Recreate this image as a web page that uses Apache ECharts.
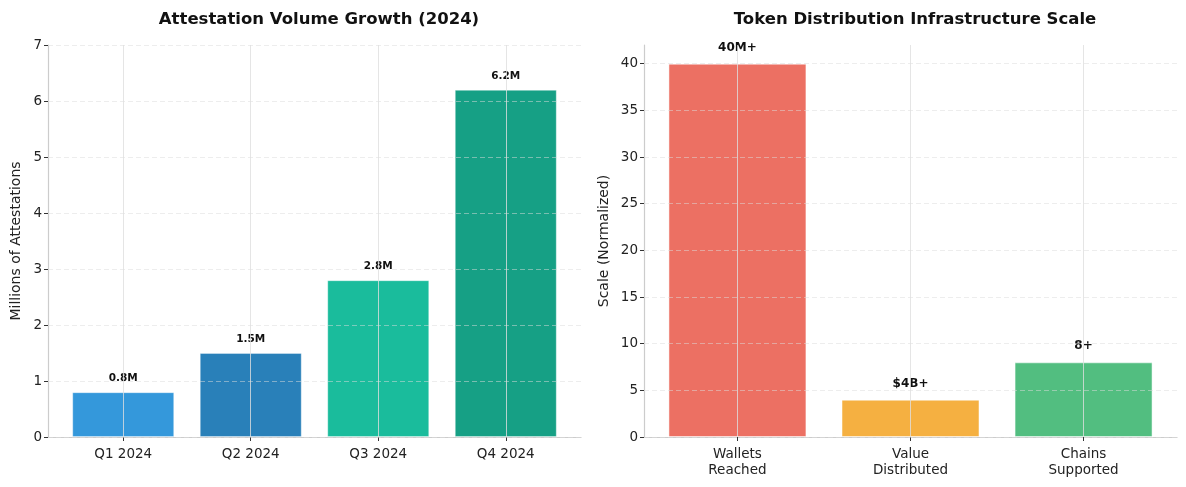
<!DOCTYPE html>
<html><head><meta charset="utf-8">
<script src="https://cdn.jsdelivr.net/npm/echarts@6/dist/echarts.min.js"></script>
<style>html,body{margin:0;padding:0;background:#fff}#c{width:1186px;height:487px}</style>
</head><body><div id="c"></div>
<script>
const quarters = ['Q1 2024','Q2 2024','Q3 2024','Q4 2024'];
const attestations = [0.8, 1.5, 2.8, 6.2];
const quarterColors = ['#3498db','#2980b9','#1abc9c','#16a085'];
const leftTicks = [0,1,2,3,4,5,6,7];

const metrics = ['Wallets\nReached','Value\nDistributed','Chains\nSupported'];
const scaleValues = [40, 4, 8];
const scaleLabels = ['40M+','$4B+','8+'];
const metricColors = ['rgba(231,76,60,0.8)','rgba(243,156,18,0.8)','rgba(39,174,96,0.8)'];
const rightTicks = [0,5,10,15,20,25,30,35,40];

const font = 'DejaVu Sans';
const spine = '#cccccc';
const hGrid = {type:[5,3], color:'rgba(220,220,220,0.5)', width:1};
const vGrid = {type:'solid', color:'rgba(222,222,222,0.8)', width:1};

function xAxisCfg(idx, cats, min, max){
  return {type:'value', gridIndex:idx, min:min, max:max,
    axisLine:{show:true, onZero:false, lineStyle:{color:spine, width:1.2}},
    axisTick:{show:true, customValues:cats.map((_,i)=>i), length:4, lineStyle:{color:'#333'}},
    axisLabel:{customValues:cats.map((_,i)=>i), formatter:v=>cats[Math.round(v)]||'', color:'#222', fontFamily:font, fontSize:13.5, margin:9, lineHeight:16},
    splitLine:{show:false}};
}
function yAxisCfg(idx, ticks, max, name){
  return {type:'value', gridIndex:idx, min:0, max:max,
    name:name, nameLocation:'middle', nameGap:idx===0?25:33, nameTextStyle:{fontFamily:font, fontSize:14, color:'#222'},
    axisLine:{show:true, onZero:false, lineStyle:{color:spine, width:1.2}},
    axisTick:{show:true, customValues:ticks, length:4, lineStyle:{color:'#333'}},
    axisLabel:{customValues:ticks, color:'#222', fontFamily:font, fontSize:13.5, margin:6},
    splitLine:{show:false}};
}
function markLines(cats, ticks){
  return {silent:true, symbol:'none', label:{show:false}, animation:false,
    data: ticks.map(t=>({yAxis:t, lineStyle:hGrid})).concat(cats.map((_,i)=>({xAxis:i, lineStyle:vGrid})))};
}

const option = {
  backgroundColor:'#fff',
  animation:false,
  title:[
    {text:'Attestation Volume Growth (2024)', left:314, top:6, textAlign:'center', textStyle:{fontFamily:font, fontWeight:'bold', fontSize:16.5, color:'#111'}},
    {text:'Token Distribution Infrastructure Scale', left:910, top:6, textAlign:'center', textStyle:{fontFamily:font, fontWeight:'bold', fontSize:16.5, color:'#111'}}
  ],
  grid:[
    {left:48, right:605, top:45, bottom:50},
    {left:644, right:9, top:45, bottom:50}
  ],
  xAxis:[xAxisCfg(0, quarters, -0.59, 3.59), xAxisCfg(1, metrics, -0.54, 2.54)],
  yAxis:[yAxisCfg(0, leftTicks, 7, 'Millions of Attestations'), yAxisCfg(1, rightTicks, 42, 'Scale (Normalized)')],
  series:[
    {type:'bar', xAxisIndex:0, yAxisIndex:0, barWidth:102,
      data: attestations.map((v,i)=>({value:[i,v], itemStyle:{color:quarterColors[i], borderColor:'rgba(255,255,255,0.35)', borderWidth:1},
        label:{show:true, position:'top', distance:8, formatter:v+'M', fontFamily:font, fontWeight:'bold', fontSize:10.5, color:'#111'}})),
      markLine: markLines(quarters, leftTicks)},
    {type:'bar', xAxisIndex:1, yAxisIndex:1, barWidth:138,
      data: scaleValues.map((v,i)=>({value:[i,v], itemStyle:{color:metricColors[i], borderColor:'rgba(255,255,255,0.5)', borderWidth:1},
        label:{show:true, position:'top', distance:10, formatter:scaleLabels[i], fontFamily:font, fontWeight:'bold', fontSize:12, color:'#111'}})),
      markLine: markLines(metrics, rightTicks)}
  ]
};
const chart = echarts.init(document.getElementById('c'), null, {renderer:'canvas'});
chart.setOption(option);
</script></body></html>
